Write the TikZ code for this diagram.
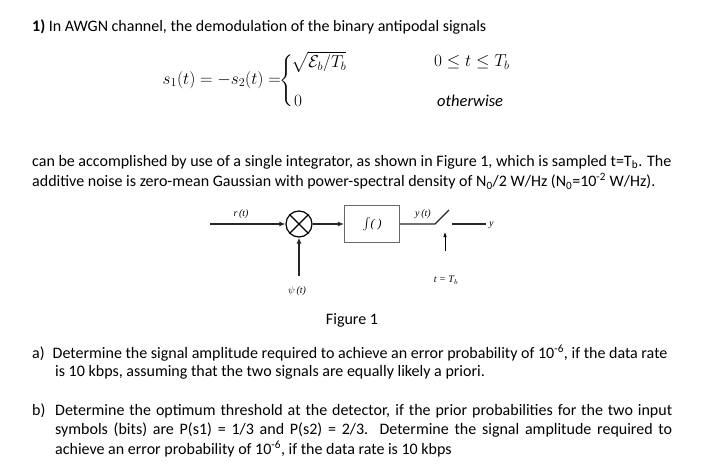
\documentclass[tikz,border=0pt]{standalone}
\usepackage{amsmath}
\usepackage{fontspec}
\setmainfont{Carlito}
\newfontfamily\lblfont{Liberation Serif}
\usetikzlibrary{arrows.meta}
\begin{document}
\begin{tikzpicture}[x=1pt,y=-1pt,
  txt/.style={anchor=west,inner sep=0pt,font=\fontsize{16}{19}\selectfont},
  mth/.style={anchor=west,inner sep=0pt,font=\fontsize{16.5}{20}\selectfont},
  lbl/.style={inner sep=0pt,font=\fontsize{10}{11}\lblfont\itshape},
  wire/.style={line width=1.3pt,draw=black!85},
  arr/.style={wire,-{Latex[length=6pt,width=5pt]}}]
\useasboundingbox (0,0) rectangle (701,471);
\node[txt] (t1) at (32,27) {\textbf{1)} In AWGN channel, the demodulation of the binary antipodal signals};
\node[mth,anchor=east] (eqL) at (281,80) {$s_1(t)=-s_2(t)=$};
\node[mth] (br) at (279,81) {$\left\{\rule{0pt}{28pt}\right.$};
\node[mth] (c1) at (291,62) {$\sqrt{\mathcal{E}_b/T_b}$};
\node[mth] (c2) at (294,101) {$0$};
\node[mth] (c3) at (434,62) {$0\le t\le T_b$};
\node[mth] (c4) at (437,101) {$\mathit{otherwise}$};
\node[txt] (p1) at (32,162) {can be accomplished by use of a single integrator, as shown in Figure 1, which is sampled t=T\textsubscript{b}. The};
\node[txt] (p2) at (32,181) {additive noise is zero-mean Gaussian with power-spectral density of N\textsubscript{0}/2 W/Hz (N\textsubscript{0}=10\textsuperscript{-2} W/Hz).};
% diagram
\coordinate (in) at (210,224);
\node[draw,circle,line width=1.2pt,minimum size=26pt,inner sep=0pt] (mix) at (299,224) {};
\draw[line width=1.2pt] (mix.45)--(mix.225) (mix.135)--(mix.315);
\node[draw=black!60,line width=1.1pt,minimum width=55pt,minimum height=37pt,inner sep=0pt,font=\fontsize{12}{13}\lblfont\itshape] (int) at (372,224) {$\int$( )};
\coordinate (psi) at (299,276);
\coordinate (sw1) at (435,224);
\coordinate (sw2) at (449,210);
\coordinate (sw3) at (452,224);
\coordinate (out) at (486,224);
\coordinate (tb1) at (445,251);
\coordinate (tb2) at (445,232);
\draw[arr] (in)--(mix);
\draw[arr] (psi)--(mix);
\draw[arr] (mix)--(int);
\draw[wire] (int)--(sw1)--(sw2);
\draw[wire] (sw3)--(out);
\draw[line width=0.6pt,-{Latex[length=5pt,width=3.5pt]}] (tb1)--(tb2);
\node[lbl] (lr) at (241,214) {r\,(t)};
\node[lbl] (lpsi) at (297,291) {$\psi$\,(t)};
\node[lbl] (ly) at (423,214) {y\,(t)};
\node[lbl,anchor=west] (lyo) at (489,225) {y};
\node[lbl] (ltb) at (446,280) {t = T$_b$};
\node[txt,anchor=center] (fig) at (352,320) {Figure 1};
\node[txt] (a1) at (32,353) {a)\hspace{8pt}Determine the signal amplitude required to achieve an error probability of 10\textsuperscript{-6}, if the data rate};
\node[txt] (a2) at (55,372) {is 10 kbps, assuming that the two signals are equally likely a priori.};
\node[txt] (b0) at (32,411) {b)};
\node[txt] (b1) at (55,411) {\makebox[617pt][s]{Determine the optimum threshold at the detector, if the prior probabilities for the two input}};
\node[txt] (b2) at (55,430) {\makebox[617pt][s]{symbols (bits) are P(s1) = 1/3 and P(s2) = 2/3. Determine the signal amplitude required to}};
\node[txt] (b3) at (55,449) {achieve an error probability of 10\textsuperscript{-6}, if the data rate is 10 kbps};
\end{tikzpicture}
\end{document}
